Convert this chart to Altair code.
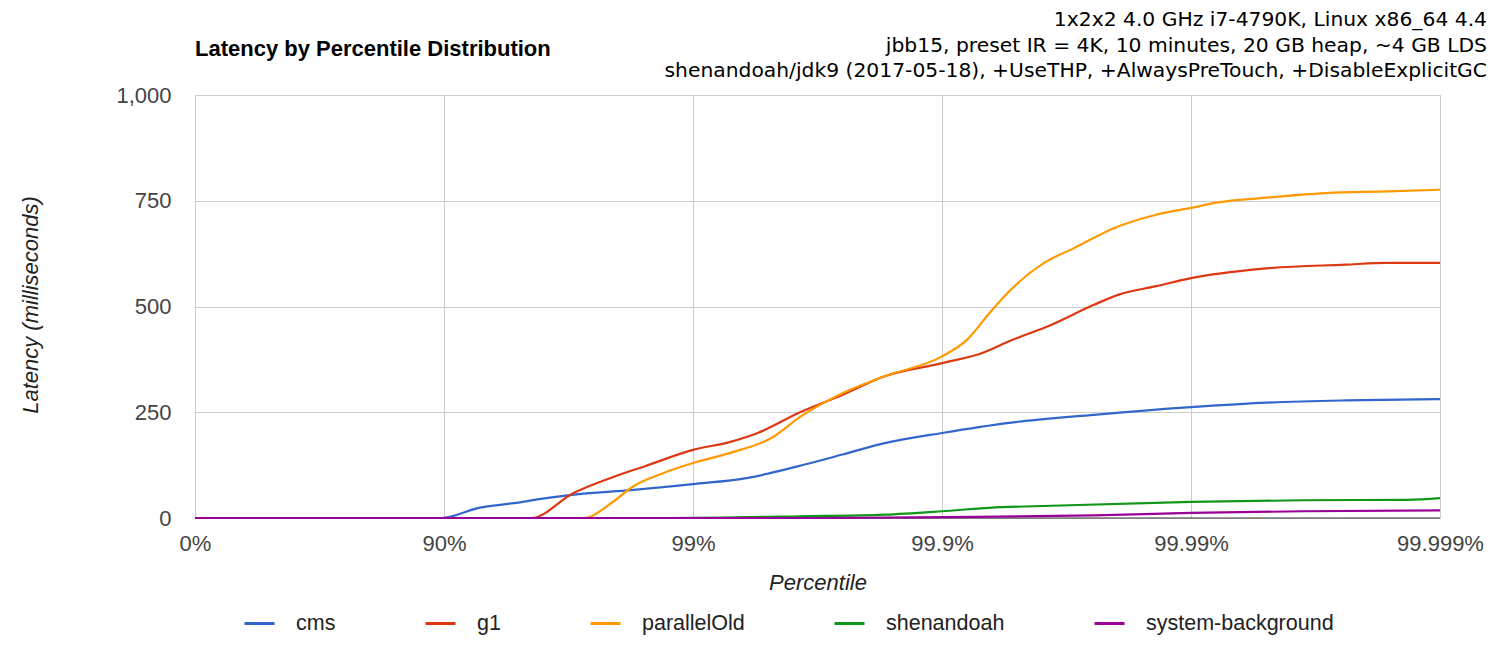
import altair as alt
import pandas as pd

# x position = number of "nines" (0 -> 0%, 1 -> 90%, 2 -> 99%, ...)
tick_labels = ["0%", "90%", "99%", "99.9%", "99.99%", "99.999%"]
series_names = ["cms", "g1", "parallelOld", "shenandoah", "system-background"]
series_colors = ["#3366cc", "#dc3912", "#ff9900", "#109618", "#990099"]

cms_x = [0, 0.99, 1.14, 1.28, 1.41, 1.55, 1.75, 2.0, 2.22, 2.42, 2.6, 2.77, 3.0, 3.27, 3.61, 4.0, 4.28, 4.62, 5.0]
cms_y = [0, 0, 24, 35, 47, 57, 66, 80, 95, 122, 150, 177, 201, 225, 244, 262, 272, 278, 281]

g1_x = [0, 1.35, 1.52, 1.68, 1.81, 2.0, 2.15, 2.26, 2.43, 2.6, 2.77, 3.0, 3.17, 3.27, 3.44, 3.61, 3.71, 3.86, 4.0, 4.28, 4.62, 4.79, 5.0]
g1_y = [0, 0, 59, 97, 123, 161, 180, 201, 250, 291, 335, 366, 392, 418, 457, 504, 528, 548, 567, 589, 599, 603, 603]

par_x = [0, 1.56, 1.68, 1.75, 1.88, 2.0, 2.15, 2.32, 2.43, 2.6, 2.77, 3.0, 3.1, 3.19, 3.27, 3.41, 3.53, 3.69, 3.86, 4.0, 4.11, 4.28, 4.54, 4.79, 5.0]
par_y = [0, 0, 39, 71, 106, 130, 154, 191, 239, 295, 335, 382, 421, 484, 536, 603, 638, 685, 717, 733, 746, 756, 768, 772, 776]

shen_x = [0, 1.9, 2.43, 2.77, 3.0, 3.19, 3.44, 4.0, 4.45, 4.87, 5.0]
shen_y = [0, 0, 4, 8, 16, 24, 29, 38, 42, 43, 47]

sys_x = [0, 2.5, 3.0, 3.61, 4.0, 4.45, 5.0]
sys_y = [0, 0, 2, 6, 12, 16, 18]

subtitle_lines = [
    "1x2x2 4.0 GHz i7-4790K, Linux x86_64 4.4",
    "jbb15, preset IR = 4K, 10 minutes, 20 GB heap, ~4 GB LDS",
    "shenandoah/jdk9 (2017-05-18), +UseTHP, +AlwaysPreTouch, +DisableExplicitGC",
]

frames = []
for name, xs, ys in zip(series_names,
                        [cms_x, g1_x, par_x, shen_x, sys_x],
                        [cms_y, g1_y, par_y, shen_y, sys_y]):
    frames.append(pd.DataFrame({"nines": xs, "latency": ys, "series": name, "order": range(len(xs))}))
df = pd.concat(frames, ignore_index=True)

W, H = 1245, 423
label_expr = "[" + ",".join("'%s'" % t for t in tick_labels) + "][datum.value]"

x_enc = alt.X("nines:Q", scale=alt.Scale(domain=[0, 5], nice=False),
              axis=alt.Axis(values=[0, 1, 2, 3, 4, 5], labelExpr=label_expr,
                            title="Percentile", titleX=W / 2, titleY=64,
                            titleBaseline="middle", titleFontStyle="italic",
                            titleFontWeight="normal", titleFontSize=22, titleColor="#222",
                            labelFontSize=22, labelColor="#444", labelPadding=15,
                            ticks=False, domain=False, grid=True, gridColor="#cccccc",
                            labelFont="Liberation Sans", titleFont="Liberation Sans",
                            labelFlush=False))
y_enc = alt.Y("latency:Q", scale=alt.Scale(domain=[0, 1000], nice=False),
              axis=alt.Axis(values=[0, 250, 500, 750, 1000], format=",.0f",
                            title="Latency (milliseconds)", titleX=-165, titleY=H / 2 - 2,
                            titleAngle=270, titleBaseline="middle", titleAlign="center",
                            titleFontStyle="italic", titleFontWeight="normal",
                            titleFontSize=22, titleColor="#222",
                            labelFontSize=22, labelColor="#444", labelPadding=24,
                            ticks=False, domain=False, grid=True, gridColor="#cccccc",
                            labelFont="Liberation Sans", titleFont="Liberation Sans"))

baseline = alt.Chart(pd.DataFrame({"latency": [0]})).mark_rule(color="#333333", strokeWidth=1).encode(
    y=alt.Y("latency:Q", scale=alt.Scale(domain=[0, 1000], nice=False)))

lines = alt.Chart(df).mark_line(strokeWidth=2.2, interpolate="monotone").encode(
    x=x_enc, y=y_enc,
    color=alt.Color("series:N", scale=alt.Scale(domain=series_names, range=series_colors),
                    legend=alt.Legend(title=None, orient="none", direction="horizontal",
                                      legendX=48, legendY=H + 89,
                                      symbolType="stroke", symbolStrokeWidth=3, symbolSize=900,
                                      labelFontSize=21.5, labelColor="#222",
                                      labelFont="Liberation Sans", labelOffset=20,
                                      labelLimit=400, columnPadding=83)),
    order="order:Q",
)

one = pd.DataFrame({"a": [0]})
title = alt.Chart(one).mark_text(text="Latency by Percentile Distribution", align="left",
                                 baseline="middle", fontSize=22, fontWeight="bold",
                                 font="Liberation Sans", color="#000").encode(
    x=alt.value(0), y=alt.value(-46))

sub_layers = []
for i, (line, yy) in enumerate(zip(subtitle_lines, [-75, -49, -24])):
    sub_layers.append(alt.Chart(pd.DataFrame({"a": [i]})).mark_text(
        text=line, align="right", baseline="middle", fontSize=20.3,
        font="DejaVu Sans", color="#000").encode(x=alt.value(1292), y=alt.value(yy)))

chart = alt.layer(baseline, lines, title, *sub_layers).properties(
    width=W, height=H,
    autosize=alt.AutoSizeParams(type="none"),
    padding={"left": 187, "top": 87, "right": 60, "bottom": 120},
).configure_view(stroke=None).configure(font="Liberation Sans")

chart.save("out.html", embed_options={"renderer": "svg", "actions": False})
